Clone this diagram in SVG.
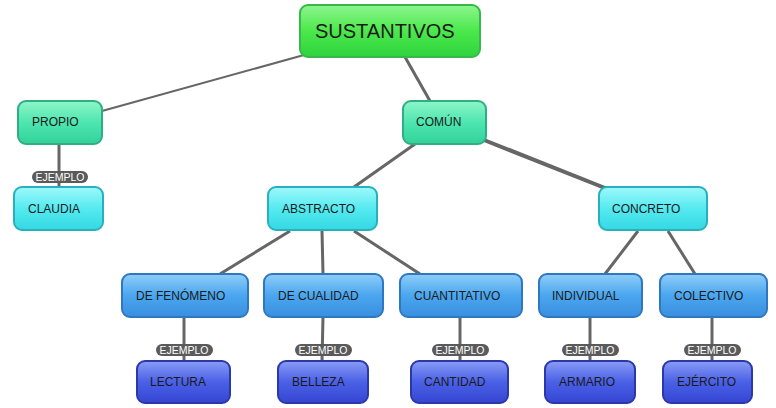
<svg xmlns="http://www.w3.org/2000/svg" width="776" height="408" viewBox="0 0 776 408">
<defs>
<linearGradient id="gG" x1="0" y1="0" x2="0" y2="1"><stop offset="0" stop-color="#8ef58e"/><stop offset="0.5" stop-color="#4be84b"/><stop offset="1" stop-color="#2fd33f"/></linearGradient>
<linearGradient id="gT" x1="0" y1="0" x2="0" y2="1"><stop offset="0" stop-color="#8ff5c8"/><stop offset="0.5" stop-color="#4de6b0"/><stop offset="1" stop-color="#33d29a"/></linearGradient>
<linearGradient id="gC" x1="0" y1="0" x2="0" y2="1"><stop offset="0" stop-color="#9ff8fb"/><stop offset="0.5" stop-color="#55eaf0"/><stop offset="1" stop-color="#34d8e2"/></linearGradient>
<linearGradient id="gB" x1="0" y1="0" x2="0" y2="1"><stop offset="0" stop-color="#8fcdfa"/><stop offset="0.5" stop-color="#4aa6ee"/><stop offset="1" stop-color="#3a8fe0"/></linearGradient>
<linearGradient id="gD" x1="0" y1="0" x2="0" y2="1"><stop offset="0" stop-color="#8a9cf5"/><stop offset="0.5" stop-color="#4a60e6"/><stop offset="1" stop-color="#3546d2"/></linearGradient>
</defs>
<style>
.n{stroke-width:2}
.g{fill:url(#gG);stroke:#36b84a}
.t{fill:url(#gT);stroke:#2fae86}
.c{fill:url(#gC);stroke:#2ab0bd}
.b{fill:url(#gB);stroke:#2f78c0}
.d{fill:url(#gD);stroke:#2c38a8}
text{font-family:"Liberation Sans",Arial,sans-serif;font-size:12px;fill:#1a1a1a}
.lk line{stroke:#666;stroke-width:3}
.lab rect{fill:#5a5a5a}
.lab text{fill:#fff;font-size:10.5px;text-anchor:middle}
</style>
<g id="connectors" class="lk">
<line x1="304" y1="55" x2="102" y2="111" style="stroke-width:2"/>
<line x1="405" y1="57" x2="430" y2="101"/>
<line x1="59" y1="144" x2="59" y2="188"/>
<line x1="415" y1="144" x2="354" y2="187"/>
<line x1="484" y1="140" x2="610" y2="190" style="stroke-width:4"/>
<line x1="290" y1="231" x2="220" y2="274"/>
<line x1="322" y1="231" x2="323" y2="274"/>
<line x1="354" y1="231" x2="420" y2="274"/>
<line x1="638" y1="231" x2="605" y2="274"/>
<line x1="668" y1="231" x2="695" y2="274"/>
<line x1="184" y1="317" x2="184" y2="361"/>
<line x1="323" y1="317" x2="322" y2="361"/>
<line x1="460" y1="317" x2="460" y2="361"/>
<line x1="590" y1="317" x2="590" y2="361"/>
<line x1="712" y1="317" x2="712" y2="361"/>
</g>
<g class="lab">
<g id="lab1"><rect x="32" y="171" width="56" height="12" rx="6"/><text x="60" y="181">EJEMPLO</text></g>
<g id="lab2"><rect x="156" y="344" width="57" height="12" rx="6"/><text x="184" y="354">EJEMPLO</text></g>
<g id="lab3"><rect x="295" y="344" width="57" height="12" rx="6"/><text x="323" y="354">EJEMPLO</text></g>
<g id="lab4"><rect x="432" y="344" width="57" height="12" rx="6"/><text x="460" y="354">EJEMPLO</text></g>
<g id="lab5"><rect x="562" y="344" width="57" height="12" rx="6"/><text x="590" y="354">EJEMPLO</text></g>
<g id="lab6"><rect x="684" y="344" width="57" height="12" rx="6"/><text x="712" y="354">EJEMPLO</text></g>
</g>
<g id="sustantivos"><rect class="n g" x="300" y="5" width="180" height="52" rx="8"/><text x="315" y="38" style="font-size:20px">SUSTANTIVOS</text></g>
<g id="propio"><rect class="n t" x="18" y="101" width="84" height="43" rx="8"/><text x="32" y="126">PROPIO</text></g>
<g id="claudia"><rect class="n c" x="14" y="187" width="89" height="43" rx="8"/><text x="28" y="213">CLAUDIA</text></g>
<g id="comun"><rect class="n t" x="403" y="101" width="83" height="43" rx="8"/><text x="416" y="126">COMÚN</text></g>
<g id="abstracto"><rect class="n c" x="268" y="187" width="109" height="43" rx="8"/><text x="282" y="213">ABSTRACTO</text></g>
<g id="concreto"><rect class="n c" x="599" y="187" width="108" height="43" rx="8"/><text x="612" y="213">CONCRETO</text></g>
<g id="fenomeno"><rect class="n b" x="122" y="274" width="126" height="43" rx="8"/><text x="136" y="300">DE FENÓMENO</text></g>
<g id="cualidad"><rect class="n b" x="264" y="274" width="119" height="43" rx="8"/><text x="278" y="300">DE CUALIDAD</text></g>
<g id="cuantitativo"><rect class="n b" x="400" y="274" width="122" height="43" rx="8"/><text x="414" y="300">CUANTITATIVO</text></g>
<g id="individual"><rect class="n b" x="539" y="274" width="103" height="43" rx="8"/><text x="552" y="300">INDIVIDUAL</text></g>
<g id="colectivo"><rect class="n b" x="660" y="274" width="107" height="43" rx="8"/><text x="674" y="300">COLECTIVO</text></g>
<g id="lectura"><rect class="n d" x="137" y="361" width="93" height="42" rx="8"/><text x="150" y="386">LECTURA</text></g>
<g id="belleza"><rect class="n d" x="278" y="361" width="90" height="42" rx="8"/><text x="292" y="386">BELLEZA</text></g>
<g id="cantidad"><rect class="n d" x="411" y="361" width="97" height="42" rx="8"/><text x="424" y="386">CANTIDAD</text></g>
<g id="armario"><rect class="n d" x="545" y="361" width="90" height="42" rx="8"/><text x="559" y="386">ARMARIO</text></g>
<g id="ejercito"><rect class="n d" x="663" y="361" width="89" height="42" rx="8"/><text x="677" y="386">EJÉRCITO</text></g>
</svg>
